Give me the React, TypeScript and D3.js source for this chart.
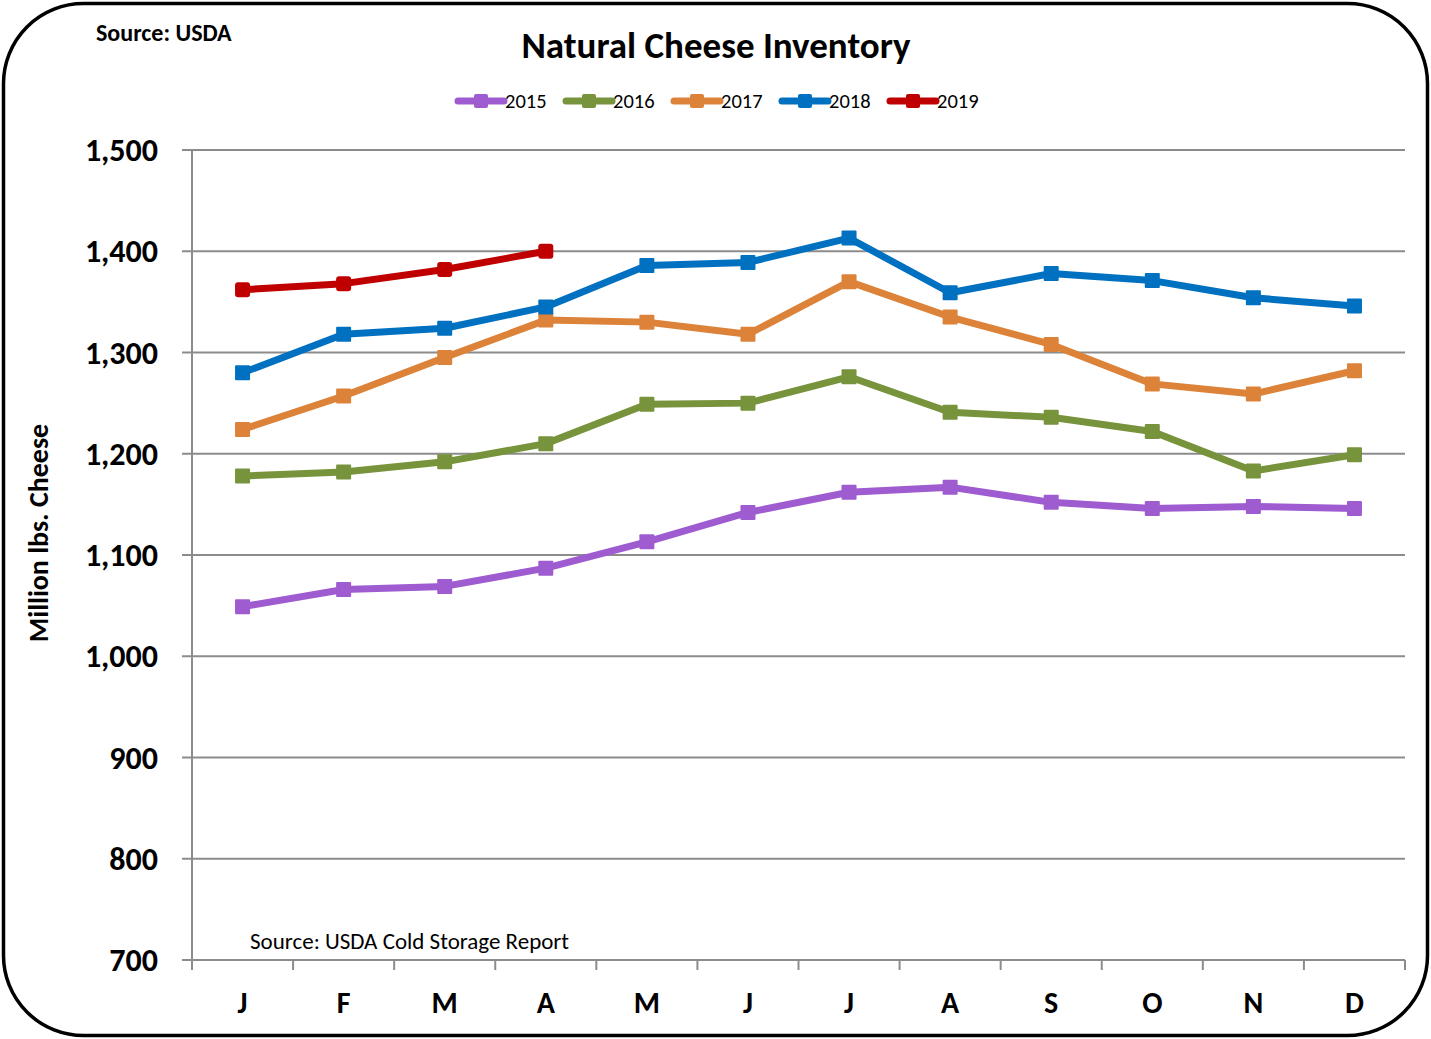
import * as React from 'react';
import * as d3 from 'd3';

const months = ['J', 'F', 'M', 'A', 'M', 'J', 'J', 'A', 'S', 'O', 'N', 'D'];
const yTicks = [700, 800, 900, 1000, 1100, 1200, 1300, 1400, 1500];

const inv2015 = [1049, 1066, 1069, 1087, 1113, 1142, 1162, 1167, 1152, 1146, 1148, 1146];
const inv2016 = [1178, 1182, 1192, 1210, 1249, 1250, 1276, 1241, 1236, 1222, 1183, 1199];
const inv2017 = [1224, 1257, 1295, 1332, 1330, 1318, 1370, 1335, 1308, 1269, 1259, 1282];
const inv2018 = [1280, 1318, 1324, 1345, 1386, 1389, 1413, 1359, 1378, 1371, 1354, 1346];
const inv2019 = [1362, 1368, 1382, 1400];

const seriesNames = ['2015', '2016', '2017', '2018', '2019'];
const seriesColors = ['#9E5CD0', '#77933C', '#DD8239', '#0070C0', '#C00000'];

const FONT = 'Carlito, "Liberation Sans Narrow", "Open Sans", sans-serif';

const W = 1431;
const H = 1039;
const plot = { left: 192, right: 1405, top: 150, bottom: 960 };

const App: React.FC = () => {
    const series = [inv2015, inv2016, inv2017, inv2018, inv2019];

    const x = d3.scaleBand<number>()
        .domain(d3.range(months.length))
        .range([plot.left, plot.right]);
    const y = d3.scaleLinear().domain([700, 1500]).range([plot.bottom, plot.top]);

    const line = d3.line<number>()
        .x((_, i) => (x(i) as number) + x.bandwidth() / 2)
        .y(v => y(v));

    const legendX = [458, 566, 674, 782, 890];

    return (
        <svg width={W} height={H} style={{ position: 'absolute', left: 0, top: 0 }}>
            <rect x={0} y={0} width={W} height={H} fill='#fff' />
            <rect x={3.5} y={3.5} width={W - 7} height={H - 7} rx={80} ry={80}
                fill='#fff' stroke='#000' strokeWidth={3.5} />

            <text x={96} y={41} fontFamily={FONT} fontWeight='bold' fontSize={24}>Source: USDA</text>
            <text x={716} y={58} textAnchor='middle' fontFamily={FONT} fontWeight='bold' fontSize={37}>
                Natural Cheese Inventory
            </text>

            {/* legend */}
            {seriesNames.map((name, i) => (
                <g key={name}>
                    <line x1={legendX[i]} x2={legendX[i] + 46} y1={101} y2={101}
                        stroke={seriesColors[i]} strokeWidth={7} strokeLinecap='round' />
                    <rect x={legendX[i] + 16} y={94} width={14} height={14} rx={2} fill={seriesColors[i]} />
                    <text x={legendX[i] + 47} y={108} fontFamily={FONT} fontSize={20.5}>{name}</text>
                </g>
            ))}

            {/* gridlines */}
            {yTicks.map(t => (
                <g key={t}>
                    <line x1={plot.left - 10} x2={plot.right} y1={y(t)} y2={y(t)} stroke='#8c8c8c' strokeWidth={2} />
                    <text x={158} y={y(t) + 11} textAnchor='end' fontFamily={FONT} fontWeight='bold' fontSize={32}>
                        {d3.format(',')(t)}
                    </text>
                </g>
            ))}
            <line x1={plot.left} x2={plot.left} y1={plot.top} y2={plot.bottom} stroke='#8c8c8c' strokeWidth={2} />

            {/* x ticks */}
            {d3.range(months.length + 1).map(i => {
                const xx = i < months.length ? (x(i) as number) : plot.right;
                return <line key={i} x1={xx} x2={xx} y1={plot.bottom} y2={plot.bottom + 10} stroke='#8c8c8c' strokeWidth={2} />;
            })}
            {months.map((m, i) => (
                <text key={i} x={(x(i) as number) + x.bandwidth() / 2} y={1013} textAnchor='middle'
                    fontFamily={FONT} fontWeight='bold' fontSize={30}>{m}</text>
            ))}

            <text transform={`translate(48,${533}) rotate(-90)`} textAnchor='middle'
                fontFamily={FONT} fontWeight='bold' fontSize={28}>Million lbs. Cheese</text>

            <text x={250} y={949} fontFamily={FONT} fontSize={23}>Source: USDA Cold Storage Report</text>

            {/* series */}
            {series.map((vals, si) => (
                <g key={si}>
                    <path d={line(vals) as string} fill='none' stroke={seriesColors[si]} strokeWidth={7}
                        strokeLinejoin='round' />
                    {vals.map((v, i) => (
                        <rect key={i} x={(x(i) as number) + x.bandwidth() / 2 - 7.5} y={y(v) - 7.5}
                            width={15} height={15} rx={si === 4 ? 3 : 1} fill={seriesColors[si]} />
                    ))}
                </g>
            ))}
        </svg>
    );
};

export default App;
